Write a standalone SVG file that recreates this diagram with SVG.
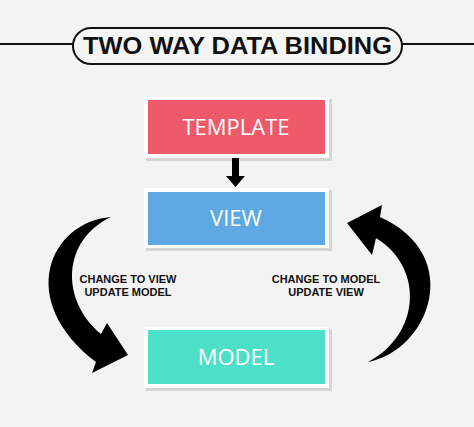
<svg xmlns="http://www.w3.org/2000/svg" width="474" height="427" viewBox="0 0 474 427">
<style>
.node-text{font-family:"Open Sans","Liberation Sans",sans-serif;font-size:22px;fill:#ffffff;text-anchor:middle}
.label{font-family:"Liberation Sans",Arial,sans-serif;font-weight:bold;font-size:11px;fill:#111;text-anchor:middle}
.frame{fill:#ffffff}
.shadow{fill:#000;opacity:0.12}
.arrow{fill:#000}
</style>
<rect width="474" height="427" fill="#f3f3f3"/>
<g id="title">
<line x1="0" y1="44" x2="73" y2="44" stroke="#111" stroke-width="2"/>
<line x1="402" y1="44" x2="474" y2="44" stroke="#111" stroke-width="2"/>
<rect x="73" y="28" width="329" height="36" rx="18" fill="#f5f5f5" stroke="#111" stroke-width="2"/>
<text x="237.5" y="54" font-family="Liberation Sans, Arial, sans-serif" font-weight="bold" font-size="23" fill="#111" text-anchor="middle" textLength="309" lengthAdjust="spacingAndGlyphs">TWO WAY DATA BINDING</text>
</g>
<g id="template">
<rect class="shadow" x="146" y="99" width="186" height="62"/>
<rect class="frame" x="144" y="97" width="185" height="61"/>
<rect x="148" y="100" width="177" height="54" fill="#ee5a6a"/>
<text class="node-text" x="236" y="135">TEMPLATE</text>
</g>
<g id="view">
<rect class="shadow" x="146" y="190" width="186" height="61"/>
<rect class="frame" x="144" y="188" width="185" height="60"/>
<rect x="148" y="192" width="177" height="53" fill="#5ea9e2"/>
<text class="node-text" x="236" y="226">VIEW</text>
</g>
<g id="model">
<rect class="shadow" x="146" y="329" width="186" height="62"/>
<rect class="frame" x="144" y="327" width="185" height="61"/>
<rect x="148" y="330" width="177" height="54" fill="#4edfc9"/>
<text class="node-text" x="236" y="365">MODEL</text>
</g>
<g id="connectors">
<path class="arrow" d="M232,158 L239,158 L239,176 L245,176 L235.5,187 L226,176 L232,176 Z"/>
<path class="arrow" d="M111,217 C50,222 15,300 96,362 L92,373 L128,355 L107,323 L101,334 C60,300 62,240 111,217 Z"/>
<path class="arrow" d="M368,362 C430,350 465,255 380,217 L382,205 L347,223 L372,255 L376,238 C425,268 420,335 368,362 Z"/>
</g>
<g id="labels">
<text class="label" x="128" y="283">CHANGE TO VIEW</text>
<text class="label" x="128" y="296">UPDATE MODEL</text>
<text class="label" x="326" y="283">CHANGE TO MODEL</text>
<text class="label" x="326" y="296">UPDATE VIEW</text>
</g>
</svg>
